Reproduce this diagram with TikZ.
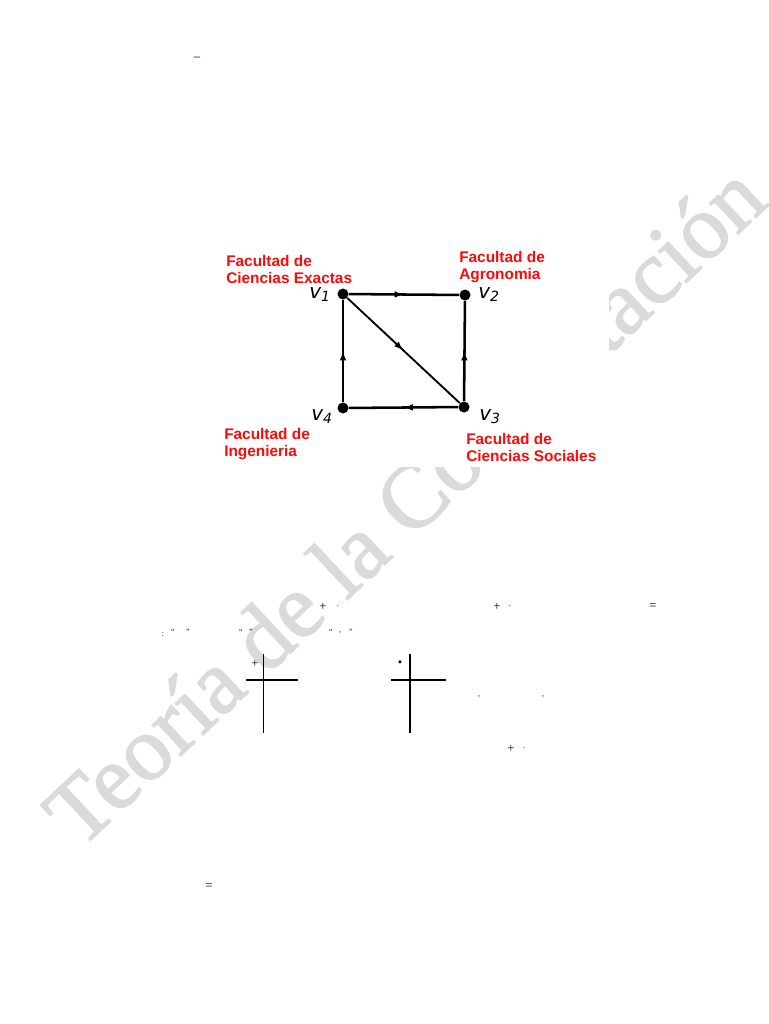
\documentclass[tikz,border=0pt]{standalone}
\usepackage{fontspec}
\setmainfont{Liberation Serif}
\newfontfamily\wmfont[FakeBold=1.6]{Liberation Serif}
\newfontfamily\labfont{Liberation Sans}
\newfontfamily\vfont{DejaVu Sans}
\usetikzlibrary{decorations.markings,arrows.meta}
\definecolor{wm}{RGB}{218,218,218}
\definecolor{labred}{RGB}{250,10,10}
\begin{document}
\begin{tikzpicture}[x=0.75pt,y=-0.75pt,
  vert/.style={circle,fill=black,inner sep=0pt,minimum size=8.25pt},
  arc/.style={line width=1.9pt,postaction={decorate},
    decoration={markings,mark=at position 0.5 with {\arrow{Latex[length=7pt,width=5pt]}}}},
  arcthin/.style={arc,line width=1.4pt},
  lab/.style={anchor=base west,inner sep=0pt,text=labred,
    font=\labfont\bfseries\fontsize{11.55}{12.75}\selectfont},
  vlab/.style={anchor=base west,inner sep=0pt,font=\vfont\itshape\fontsize{15}{16}\selectfont},
  stray/.style={inner sep=0pt,font=\fontsize{9.5}{10}\selectfont},
  tiny/.style={inner sep=0pt,font=\fontsize{6}{7}\selectfont},
  rule/.style={line width=0.8pt}
]
\useasboundingbox[fill=white] (0,0) rectangle (768,1024);

% watermark
\node[anchor=base west,inner sep=0pt,rotate=43.1,text=wm,
  font=\wmfont\fontsize{68.5}{68.5}\selectfont] (wmark) at (80,850) {Teoría de la Computación};

% white background of the figure, covering the watermark
\fill[white] (212,238) rectangle (609,467);

% graph
\node[vert] (v1) at (343,294) {};
\node[vert] (v2) at (465,295) {};
\node[vert] (v3) at (464,407) {};
\node[vert] (v4) at (343,408) {};

\draw[arc] (v1) -- (v2);
\draw[arcthin] (v1) -- (v3);
\draw[arc] (v3) -- (v2);
\draw[arc] (v3) -- (v4);
\draw[arc] (v4) -- (v1);

\newcommand{\vsub}[1]{v\raisebox{-0.35ex}{\fontsize{10.5}{11}\selectfont #1}}
\node[vlab] (n1) at (309,298) {\vsub{1}};
\node[vlab] (n2) at (478,298) {\vsub{2}};
\node[vlab] (n3) at (479,420) {\vsub{3}};
\node[vlab] (n4) at (311,420) {\vsub{4}};

\node[lab] (f1) at (226,266) {\begin{tabular}[t]{@{}l@{}}Facultad de\\Ciencias Exactas\end{tabular}};
\node[lab] (f2) at (459,262) {\begin{tabular}[t]{@{}l@{}}Facultad de\\Agronomia\end{tabular}};
\node[lab] (f4) at (224,439) {\begin{tabular}[t]{@{}l@{}}Facultad de\\Ingenieria\end{tabular}};
\node[lab] (f3) at (466,444) {\begin{tabular}[t]{@{}l@{}}Facultad de\\Ciencias Sociales\end{tabular}};

% stray marks
\node[stray] (s0) at (197,59) {–};
\node[stray] (s1) at (323,607) {+};
\node[tiny] (s1d) at (338,607) {·};
\node[stray] (s2) at (497,607) {+};
\node[tiny] (s2d) at (510,607) {·};
\node[stray] (s3) at (653,607) {=};
\node[tiny] (q0) at (163,635) {:};
\node[tiny] (q1) at (173,632) {“};
\node[tiny] (q2) at (188,632) {”};
\node[tiny] (q3) at (241,632) {“};
\node[tiny] (q4) at (251,632) {”};
\node[tiny] (q5) at (331,632) {“};
\node[tiny] (q6) at (340,633) {,};
\node[tiny] (q7) at (351,632) {”};

\coordinate (c1t) at (263.5,654);
\coordinate (c1b) at (263.5,733);
\coordinate (c1l) at (246,680);
\coordinate (c1r) at (298,680);
\draw[rule] (c1t) -- (c1b);
\draw[rule] (c1l) -- (c1r);
\node[stray] (p1) at (255,664) {+};

\coordinate (c2t) at (410,654);
\coordinate (c2b) at (410,733);
\coordinate (c2l) at (391,680);
\coordinate (c2r) at (446,680);
\draw[rule] (c2t) -- (c2b);
\draw[rule] (c2l) -- (c2r);
\node[stray] (p2) at (400,664) {•};

\node[tiny] (k1) at (479,697) {,};
\node[tiny] (k2) at (543,697) {,};
\node[stray] (s4) at (511,749) {+};
\node[tiny] (s4d) at (524,749) {·};
\node[stray] (s5) at (209,887) {=};
\end{tikzpicture}
\end{document}
